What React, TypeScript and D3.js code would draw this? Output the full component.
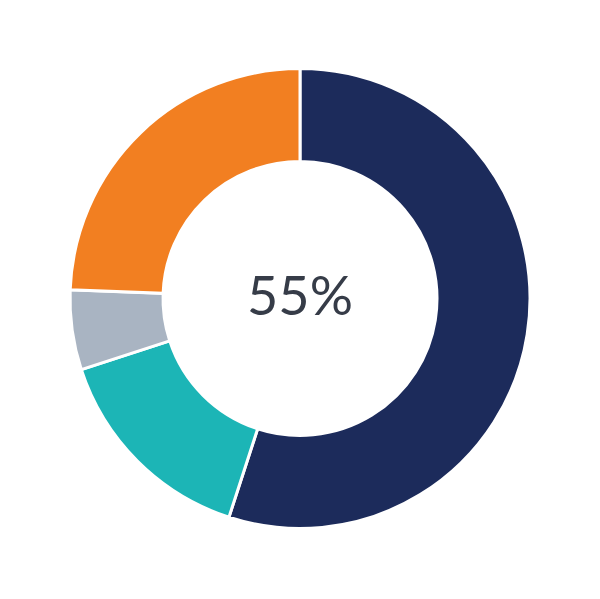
import React, { useEffect, useRef } from 'react';
import * as d3 from 'd3';

const categories = ['A', 'B', 'C', 'D'];
const values = [55, 15, 5.6, 24.4];
const colors = ['#1c2b5b', '#1cb5b6', '#a9b4c2', '#f27f21'];
const centerLabel = '55%';

export default function App() {
  const svgRef = useRef<SVGSVGElement>(null);

  useEffect(() => {
    if (!svgRef.current) return;
    const svg = d3.select(svgRef.current);
    svg.selectAll('*').remove();

    const width = 600;
    const height = 599;
    const cx = 300;
    const cy = 298.5;

    const data = categories.map((c, i) => ({ name: c, value: values[i], color: colors[i] }));

    const pie = d3
      .pie<any>()
      .sort(null)
      .value((d) => d.value);

    const arc = d3.arc<any>().innerRadius(137).outerRadius(230);

    const g = svg.append('g').attr('transform', `translate(${cx},${cy})`);

    g.selectAll('path')
      .data(pie(data))
      .enter()
      .append('path')
      .attr('d', arc)
      .attr('fill', (d: any) => d.data.color)
      .attr('stroke', '#fff')
      .attr('stroke-width', 3);

    // center label, baseline sits ~16px below centre
    g.append('text')
      .attr('text-anchor', 'middle')
      .attr('y', 16)
      .style('font-family', 'Lato, sans-serif')
      .style('font-size', '54px')
      .style('fill', '#363c48')
      .text(centerLabel);

    svg.attr('width', width).attr('height', height);
  }, []);

  return (
    <div style={{ position: 'fixed', left: 0, top: 0 }}>
      <svg ref={svgRef} style={{ display: 'block', background: '#fff' }}></svg>
    </div>
  );
}
